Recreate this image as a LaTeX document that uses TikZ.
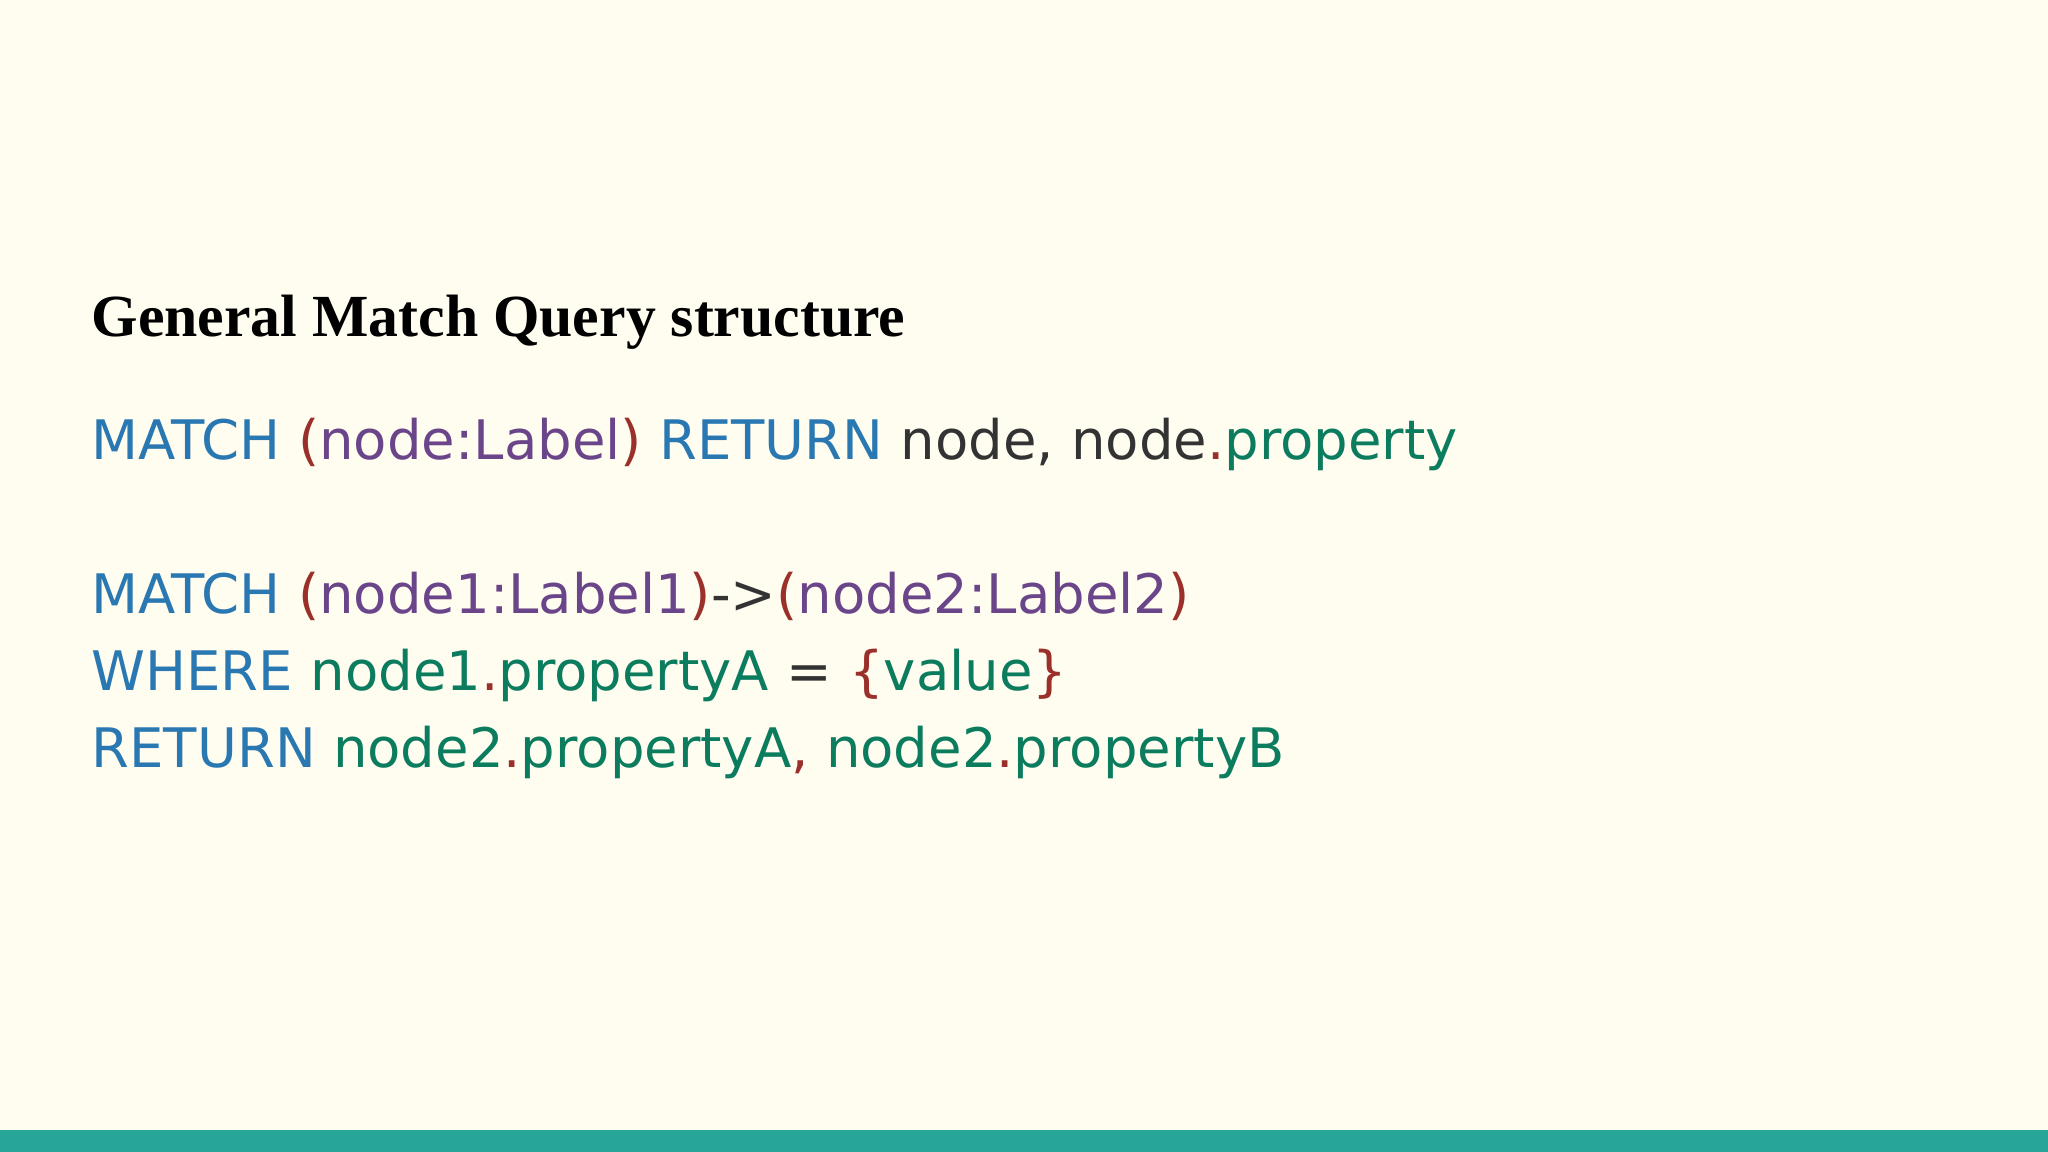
\documentclass[tikz,border=0pt]{standalone}
\usepackage{fontspec}
\setmainfont{DejaVu Sans}
\newfontfamily\titlefont{Liberation Serif}
\definecolor{bg}{HTML}{FFFCF0}
\definecolor{bar}{HTML}{27A598}
\definecolor{kw}{HTML}{2A78B2}
\definecolor{pu}{HTML}{6B4589}
\definecolor{br}{HTML}{9B2F2A}
\definecolor{gr}{HTML}{0B7C5E}
\definecolor{dk}{HTML}{333333}
\tikzset{codeline/.style={anchor=base west,inner sep=0pt,font=\fontsize{15.5pt}{18pt}\selectfont}}
\begin{document}
\begin{tikzpicture}[x=1cm,y=1cm]
\fill[bg] (0,0) rectangle (20.48,11.52);
\useasboundingbox (0,0) rectangle (20.48,11.52);
\fill[bar] (0,0) rectangle (20.48,0.22);
\node[anchor=base west,inner sep=0pt,font=\titlefont\bfseries\fontsize{17pt}{20pt}\selectfont] (title) at (0.91,8.15) {General Match Query structure};
\node[codeline] (l1) at (0.91,6.92) {\textcolor{kw}{MATCH} \textcolor{br}{(}\textcolor{pu}{node:Label}\textcolor{br}{)} \textcolor{kw}{RETURN} \textcolor{dk}{node, node}\textcolor{br}{.}\textcolor{gr}{property}};
\node[codeline] (l2) at (0.91,5.38) {\textcolor{kw}{MATCH} \textcolor{br}{(}\textcolor{pu}{node1:Label1}\textcolor{br}{)}\textcolor{dk}{->}\textcolor{br}{(}\textcolor{pu}{node2:Label2}\textcolor{br}{)}};
\node[codeline] (l3) at (0.91,4.61) {\textcolor{kw}{WHERE} \textcolor{gr}{node1}\textcolor{br}{.}\textcolor{gr}{propertyA} \textcolor{dk}{=} \textcolor{br}{\{}\textcolor{gr}{value}\textcolor{br}{\}}};
\node[codeline] (l4) at (0.91,3.84) {\textcolor{kw}{RETURN} \textcolor{gr}{node2}\textcolor{br}{.}\textcolor{gr}{propertyA}\textcolor{br}{,} \textcolor{gr}{node2}\textcolor{br}{.}\textcolor{gr}{propertyB}};
\end{tikzpicture}
\end{document}
